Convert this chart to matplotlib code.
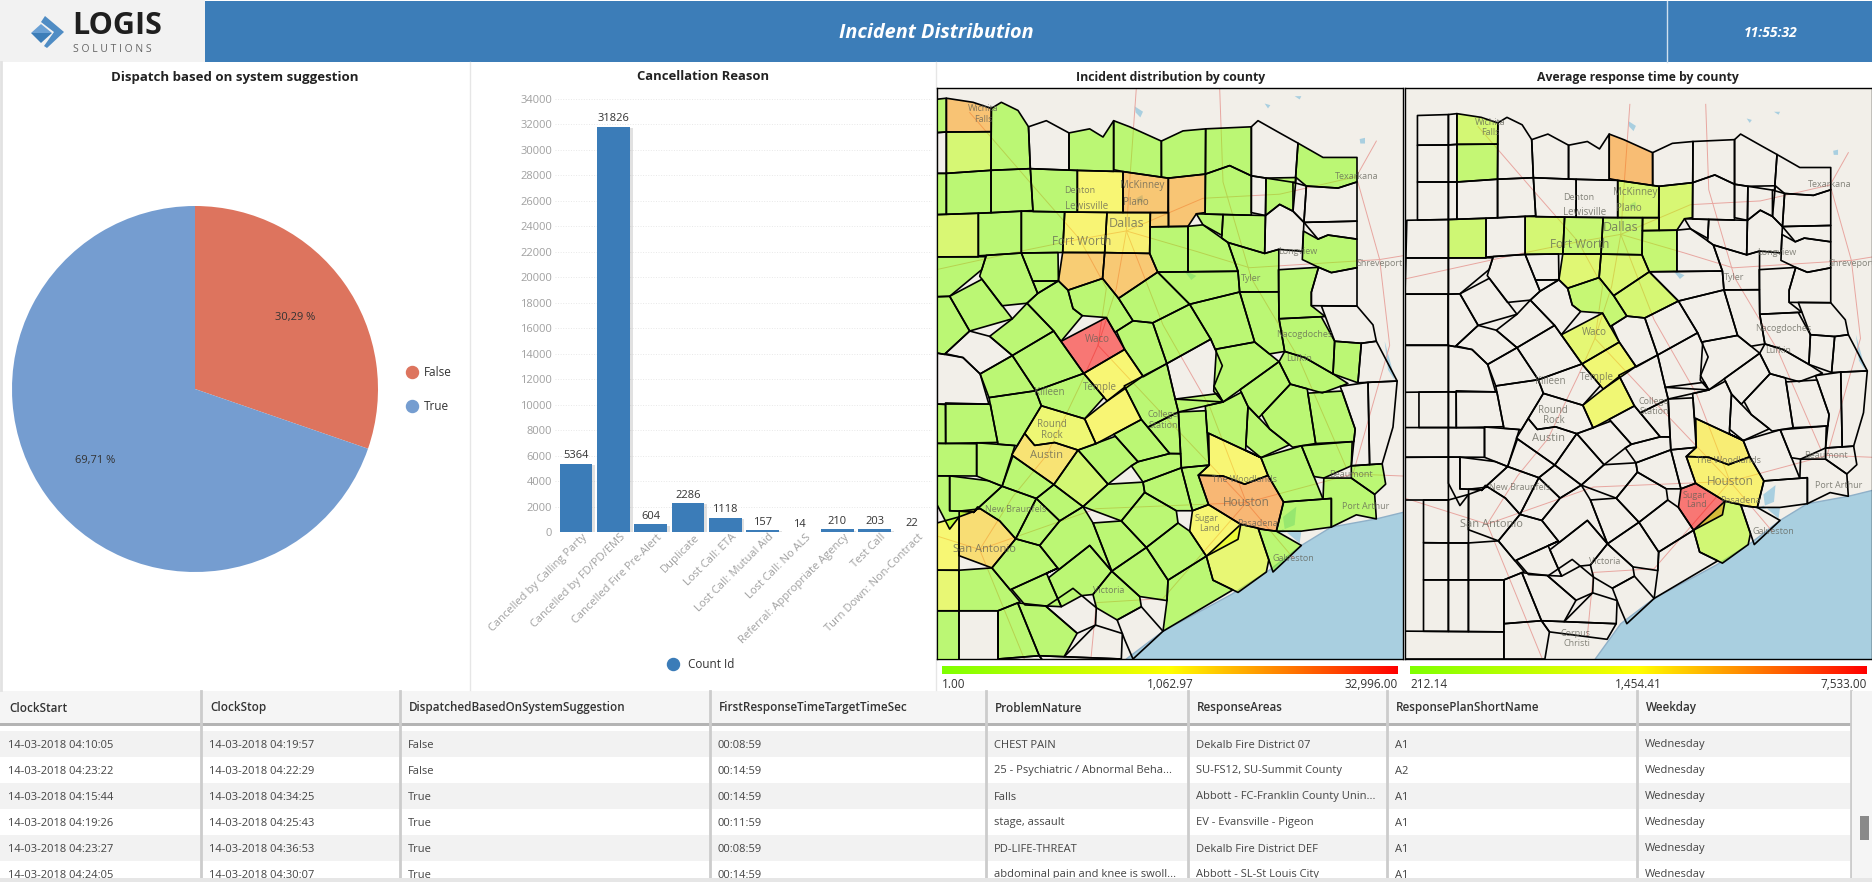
import matplotlib
matplotlib.use("Agg")
import matplotlib.pyplot as plt
import matplotlib.patheffects as pe
from matplotlib.colors import LinearSegmentedColormap, TwoSlopeNorm
from matplotlib.patches import Polygon, Rectangle
from matplotlib.transforms import ScaledTranslation
import numpy as np

W, H = 1872, 882
plt.rcParams['font.family'] = ['Open Sans', 'DejaVu Sans']

PIE_LABELS = ["False", "True"]
PIE_VALUES = [30.29, 69.71]
PIE_COLORS = ["#dd745e", "#759dd0"]

REASONS = ["Cancelled by Calling Party", "Cancelled by FD/PD/EMS", "Cancelled Fire Pre-Alert",
           "Duplicate", "Lost Call: ETA", "Lost Call: Mutual Aid", "Lost Call: No ALS",
           "Referral: Appropriate Agency", "Test Call", "Turn Down: Non-Contract"]
REASON_COUNTS = [5364, 31826, 604, 2286, 1118, 157, 14, 210, 203, 22]

TABLE_COLS = ["ClockStart", "ClockStop", "DispatchedBasedOnSystemSuggestion",
              "FirstResponseTimeTargetTimeSec", "ProblemNature", "ResponseAreas",
              "ResponsePlanShortName", "Weekday"]
TABLE_ROWS = [
    ["14-03-2018 04:10:05", "14-03-2018 04:19:57", "False", "00:08:59", "CHEST PAIN",
     "Dekalb Fire District 07", "A1", "Wednesday"],
    ["14-03-2018 04:23:22", "14-03-2018 04:22:29", "False", "00:14:59", "25 - Psychiatric / Abnormal Beha...",
     "SU-FS12, SU-Summit County", "A2", "Wednesday"],
    ["14-03-2018 04:15:44", "14-03-2018 04:34:25", "True", "00:14:59", "Falls",
     "Abbott - FC-Franklin County Unin...", "A1", "Wednesday"],
    ["14-03-2018 04:19:26", "14-03-2018 04:25:43", "True", "00:11:59", "stage, assault",
     "EV - Evansville - Pigeon", "A1", "Wednesday"],
    ["14-03-2018 04:23:27", "14-03-2018 04:36:53", "True", "00:08:59", "PD-LIFE-THREAT",
     "Dekalb Fire District DEF", "A1", "Wednesday"],
    ["14-03-2018 04:24:05", "14-03-2018 04:30:07", "True", "00:14:59", "abdominal pain and knee is swoll...",
     "Abbott - SL-St Louis City", "A1", "Wednesday"],
]

# county outlines
COUNTIES = {
    "Wichita": [(50,95),(130,105),(185,120),(183,177),(50,177)],
    "Archer": [(50,177),(183,177),(183,278),(50,278)],
    "Clay": [(185,120),(215,105),(265,125),(298,165),(295,263),(185,263)],
    "Montague": [(295,165),(350,150),(418,180),(418,270),(295,270)],
    "Cooke": [(418,180),(480,170),(520,190),(552,150),(552,270),(418,270)],
    "Grayson": [(552,150),(600,165),(695,200),(695,290),(580,275),(552,270)],
    "Fannin": [(695,200),(760,175),(828,170),(828,275),(715,290),(695,290)],
    "Lamar": [(828,170),(965,165),(965,285),(900,258),(828,285)],
    "RedRiver": [(965,165),(985,150),(1050,180),(1105,205),(1105,285),(965,285)],
    "Bowie": [(1105,205),(1180,240),(1282,240),(1282,300),(1225,315),(1130,310),(1105,300)],
    "Hopkins": [(828,285),(900,262),(965,285),(965,375),(828,375)],
    "Franklin": [(965,285),(1010,285),(1010,375),(965,375)],
    "Titus": [(1010,280),(1090,280),(1090,370),(1050,355),(1010,370)],
    "Morris": [(1090,300),(1130,310),(1130,395),(1090,375)],
    "Cass": [(1130,310),(1225,315),(1282,300),(1282,395),(1130,395)],
    "Upshur": [(1005,392),(1050,355),(1090,370),(1118,395),(1118,470),(1050,465),(1005,475)],
    "Marion": [(1118,400),(1282,397),(1282,440),(1195,430),(1165,440),(1118,410)],
    "Harrison": [(1118,420),(1165,440),(1195,430),(1282,440),(1282,510),(1205,522),(1160,500),(1118,490)],
    "Panola": [(1170,515),(1205,522),(1282,510),(1282,603),(1145,603),(1145,570)],
    "Rusk": [(1048,515),(1170,512),(1145,570),(1145,603),(1175,635),(1048,635)],
    "Smith": [(895,450),(1005,475),(1045,465),(1045,568),(930,568),(925,518)],
    "Wood": [(880,380),(1005,392),(1005,475),(895,445),(880,430)],
    "Rains": [(800,378),(880,380),(880,432),(820,405)],
    "VanZandt": [(775,408),(820,405),(895,450),(925,518),(775,518)],
    "Hunt": [(718,290),(825,278),(825,375),(800,378),(775,408),(718,408)],
    "Rockwall": [(662,375),(715,375),(715,410),(662,410)],
    "Kaufman": [(660,410),(775,410),(775,518),(682,518),(660,475)],
    "Collin": [(580,277),(715,292),(715,375),(580,375)],
    "Denton": [(443,272),(580,272),(580,375),(443,375)],
    "Wise": [(310,272),(443,272),(443,370),(310,370)],
    "Jack": [(185,265),(308,265),(310,370),(185,370)],
    "Young": [(50,280),(183,280),(183,378),(50,378)],
    "Baylor": [(22,180),(50,180),(50,278),(22,278)],
    "Throckmorton": [(22,280),(50,280),(50,378),(22,378)],
    "Wilbarger": [(22,95),(50,95),(50,177),(22,177)],
    "Stephens": [(22,382),(145,382),(145,482),(22,482)],
    "PaloPinto": [(147,372),(275,372),(275,480),(147,480)],
    "Parker": [(275,372),(405,372),(405,472),(275,472)],
    "Tarrant": [(405,375),(532,375),(532,472),(405,472)],
    "Dallas": [(532,375),(662,375),(660,475),(532,472)],
    "Johnson": [(387,474),(518,474),(518,537),(415,565),(387,545)],
    "Ellis": [(518,474),(660,475),(682,520),(565,585),(520,535)],
    "Hood": [(275,472),(385,472),(385,528),(305,545)],
    "Somervell": [(305,545),(385,528),(387,555),(325,572)],
    "Erath": [(170,482),(275,472),(322,575),(292,597),(215,605),(155,540)],
    "Eastland": [(22,485),(170,485),(170,520),(60,580),(22,580)],
    "Comanche": [(60,580),(155,540),(248,635),(120,665)],
    "Brown": [(22,582),(60,580),(120,665),(45,718),(22,718)],
    "Hamilton": [(180,678),(248,635),(292,597),(372,665),(248,725)],
    "Bosque": [(292,597),(325,572),(387,555),(415,565),(430,610),(458,630),(392,692),(372,665)],
    "Hill": [(415,565),(518,537),(565,585),(610,640),(560,665),(530,632),(458,625),(430,610)],
    "Navarro": [(570,585),(682,520),(780,600),(670,645),(610,640)],
    "Henderson": [(690,525),(925,520),(930,570),(780,598)],
    "McLennan": [(392,692),(530,632),(585,710),(458,770)],
    "Limestone": [(560,665),(610,640),(668,645),(710,742),(640,775),(585,710)],
    "Freestone": [(670,645),(780,600),(840,685),(712,742)],
    "Anderson": [(780,600),(930,570),(975,692),(860,708),(845,680)],
    "Cherokee": [(930,570),(1045,570),(1048,635),(1065,715),(1020,720),(975,692)],
    "Nacogdoches": [(1048,635),(1175,635),(1215,690),(1210,770),(1125,730),(1065,715)],
    "Shelby": [(1175,605),(1282,605),(1330,650),(1340,690),(1295,695),(1215,690)],
    "Sabine": [(1215,690),(1295,695),(1285,800),(1210,770)],
    "Newton": [(1295,695),(1340,690),(1395,785),(1285,790)],
    "Angelina": [(1065,715),(1125,730),(1210,770),(1255,800),(1178,820),(1082,795),(1048,740)],
    "Houston": [(860,708),(975,692),(1048,740),(880,840),(850,800)],
    "Trinity": [(935,815),(1048,740),(1082,795),(995,868),(955,850)],
    "Polk": [(995,868),(1082,795),(1130,818),(1158,940),(1085,935),(1020,905)],
    "Tyler": [(1130,818),(1230,815),(1278,905),(1270,935),(1158,940)],
    "Jasper": [(1230,795),(1315,790),(1320,995),(1265,995),(1275,905)],
    "Sabine2": [(1315,790),(1410,790),(1390,900),(1350,985),(1320,995)],
    "Leon": [(712,745),(845,690),(878,750),(850,800),(880,835),(735,830)],
    "Robertson": [(585,800),(712,750),(735,830),(745,860),(660,900),(635,880)],
    "Madison": [(740,835),(880,808),(880,840),(745,865)],
    "Walker": [(830,860),(880,840),(935,815),(955,850),(950,945),(990,975),(838,912)],
    "SanJacinto": [(955,850),(1020,905),(1085,935),(990,975),(955,945)],
    "Falls": [(475,765),(585,710),(640,775),(525,825)],
    "Bell": [(318,810),(458,770),(525,825),(465,880),(335,848)],
    "Coryell": [(248,725),(372,665),(458,770),(318,810)],
    "Lampasas": [(152,770),(248,725),(318,810),(178,822)],
    "SanSaba": [(45,718),(120,665),(180,678),(248,725),(152,770),(100,730)],
    "Burnet": [(178,822),(318,815),(335,848),(262,935),(205,935)],
    "Milam": [(465,880),(585,805),(635,880),(500,945)],
    "Williamson": [(335,848),(465,880),(500,945),(445,955),(375,938),(315,945),(280,912)],
    "Travis": [(250,970),(280,912),(315,945),(375,938),(445,955),(365,1042)],
    "Burleson": [(555,925),(635,885),(720,965),(625,985)],
    "Brazos": [(645,905),(745,860),(760,965),(720,965)],
    "Grimes": [(750,868),(828,860),(838,990),(755,1000)],
    "Lee": [(445,958),(555,925),(625,985),(605,995),(535,1040)],
    "Bastrop": [(380,1040),(445,958),(535,1040),(460,1095)],
    "Washington": [(605,995),(625,985),(720,965),(755,965),(755,1000),(640,1035)],
    "Fayette": [(460,1095),(535,1040),(640,1035),(645,1060),(575,1130)],
    "Austin": [(640,1035),(755,1000),(785,1105),(740,1105),(645,1060)],
    "Waller": [(755,1000),(840,995),(805,1018),(835,1090),(790,1105)],
    "Montgomery": [(838,915),(990,975),(1015,1018),(1000,1030),(945,1040),(880,1020),(808,1018),(838,995)],
    "Liberty": [(1005,975),(1115,945),(1180,1075),(1060,1078),(1015,1018)],
    "Hardin": [(1115,940),(1265,935),(1265,995),(1185,1025),(1145,1025)],
    "Orange": [(1265,995),(1365,995),(1368,1040),(1335,1065),(1265,1025)],
    "Jefferson": [(1180,1025),(1265,1025),(1335,1065),(1340,1125),(1280,1115),(1205,1145),(1205,1075),(1180,1075)],
    "Chambers": [(1060,1078),(1205,1075),(1205,1145),(1115,1155),(1040,1160),(1065,1100)],
    "Harris": [(805,1018),(880,1020),(945,1040),(1015,1020),(1040,1065),(1065,1095),(1040,1145),(1010,1160),(935,1135),(840,1090)],
    "FortBend": [(790,1105),(835,1090),(935,1140),(925,1175),(830,1210),(780,1155)],
    "Brazoria": [(930,1140),(985,1150),(1030,1220),(1010,1255),(925,1305),(850,1275),(830,1215)],
    "Galveston": [(985,1150),(1040,1160),(1115,1190),(1030,1255)],
    "Wharton": [(650,1195),(745,1135),(780,1155),(830,1215),(715,1275)],
    "Colorado": [(575,1130),(645,1060),(740,1105),(745,1135),(650,1195)],
    "Lavaca": [(490,1135),(575,1130),(650,1195),(545,1255)],
    "Matagorda": [(715,1275),(830,1225),(850,1275),(905,1310),(700,1400),(712,1320)],
    "Jackson": [(548,1255),(650,1195),(715,1275),(712,1330),(630,1315)],
    "Victoria": [(490,1310),(548,1255),(630,1315),(630,1340),(560,1380),(500,1345)],
    "Gonzales": [(390,1130),(460,1095),(490,1135),(545,1250),(480,1190),(385,1245),(330,1190)],
    "Caldwell": [(320,1075),(380,1040),(460,1095),(390,1130)],
    "Guadalupe": [(258,1170),(320,1075),(390,1130),(330,1190)],
    "Hays": [(218,1045),(250,970),(365,1042),(320,1075)],
    "Comal": [(130,1105),(218,1045),(320,1075),(258,1170),(210,1130),(150,1105)],
    "Blanco": [(142,942),(250,950),(218,1045),(142,1020)],
    "Gillespie": [(22,940),(140,940),(140,1018),(22,1018)],
    "Kendall": [(60,1020),(180,1020),(215,1045),(130,1105),(60,1105)],
    "Bexar": [(88,1120),(150,1105),(210,1130),(258,1170),(185,1245),(88,1215)],
    "Medina": [(22,1135),(88,1120),(88,1250),(22,1250)],
    "Frio": [(22,1252),(88,1252),(88,1350),(22,1350)],
    "Atascosa": [(88,1250),(185,1245),(260,1330),(205,1350),(88,1350)],
    "Wilson": [(190,1245),(258,1185),(330,1190),(385,1245),(245,1295)],
    "Karnes": [(245,1295),(385,1245),(355,1270),(395,1340),(285,1345)],
    "DeWitt": [(355,1270),(480,1190),(545,1250),(490,1310),(465,1300),(395,1340)],
    "Goliad": [(270,1345),(345,1340),(445,1405),(395,1460),(335,1455)],
    "LiveOak": [(205,1350),(265,1325),(330,1455),(205,1468)],
    "McMullen": [(88,1350),(205,1350),(205,1490),(88,1490)],
    "LaSalle": [(22,1350),(88,1350),(88,1490),(22,1490)],
    "Refugio": [(350,1345),(430,1295),(500,1340),(495,1385),(440,1405)],
    "Calhoun": [(565,1365),(640,1340),(700,1400),(610,1468),(580,1420)],
    "SanPatricio": [(410,1460),(500,1385),(590,1400),(575,1468),(405,1468)],
    "Nueces": [(325,1465),(575,1468),(545,1510),(355,1490)],
    "Llano": [(48,845),(178,845),(205,940),(48,940)],
    "Kimble": [(22,845),(48,845),(48,940),(22,940)],
    "Mason": [(22,720),(100,730),(150,770),(178,840),(22,840)],
    "Kerr": [(22,1020),(60,1020),(60,1105),(130,1105),(88,1120),(60,1150),(22,1090)],
    # only seen on the right map, which reaches further out
    "Foard": [(-80,100),(22,100),(22,180),(-80,180)],
    "Knox": [(-80,180),(22,180),(22,279),(-80,279)],
    "Haskell": [(-80,279),(22,279),(22,378),(-80,378)],
    "Shackelford": [(-115,382),(22,382),(22,482),(-115,482)],
    "Callahan": [(-121,485),(22,485),(22,580),(-121,580)],
    "Coleman": [(-121,582),(22,582),(22,718),(-121,718)],
    "McCulloch": [(-121,720),(22,720),(22,845),(-121,845)],
    "Menard": [(-75,845),(22,845),(22,940),(-75,940)],
    "Edwards": [(-121,940),(22,940),(22,1020),(-121,1020)],
    "Real": [(-121,1020),(22,1020),(22,1135),(-121,1135)],
    "Uvalde": [(-60,1135),(22,1135),(22,1250),(-60,1250)],
    "Zavala": [(-60,1250),(22,1250),(22,1350),(-60,1350)],
    "Dimmit": [(-60,1350),(22,1350),(22,1488),(-60,1488)],
    "Duval": [(205,1350),(205,1468),(325,1465),(355,1490),(340,1563),(205,1563)],
    "Webb": [(-121,1488),(205,1490),(205,1563),(-121,1563)],
}

# colored counties on the left map, all others are uncoloured
INCIDENTS = {c: 60 for c in COUNTIES}
for c in ["Montague", "RedRiver", "Franklin", "Morris", "Cass", "Upshur", "Marion", "Panola", "Shelby",
          "Newton", "Jasper", "Sabine2", "Leon", "SanSaba", "Mason", "McMullen", "Refugio", "Calhoun",
          "SanPatricio", "Nueces", "Baylor", "Foard", "Knox", "Haskell", "Shackelford", "Callahan", "Coleman",
          "McCulloch", "Menard", "Edwards", "Real", "Uvalde", "Zavala", "Dimmit", "Duval", "Webb"]:
    del INCIDENTS[c]
INCIDENTS.update({"McLennan": 32996, "Harris": 17000, "Wichita": 14000, "Collin": 13000, "Hunt": 13500,
                  "Rockwall": 11000, "Johnson": 11500, "Ellis": 12500, "Bexar": 7500, "Travis": 6000,
                  "Denton": 1300, "Tarrant": 1700, "Dallas": 2600, "Falls": 1100, "Milam": 1500,
                  "Williamson": 900, "Montgomery": 1200, "FortBend": 1300, "Brazoria": 800, "Medina": 1050,
                  "Frio": 800, "Archer": 500, "Stephens": 550, "Bastrop": 450})

RESPONSE = {"Wichita": 750, "Archer": 450, "Stephens": 650, "Collin": 780, "Hunt": 850, "Rockwall": 800,
            "Dallas": 500, "Tarrant": 540, "Parker": 760, "Kaufman": 500, "Johnson": 1000, "Ellis": 900,
            "Navarro": 800, "Hill": 500, "McLennan": 1100, "Falls": 1300, "Milam": 1300, "Montgomery": 1900,
            "Harris": 1700, "FortBend": 7533, "Brazoria": 700, "Grayson": 4200}

COAST = [(506,1563),(590,1468),(700,1400),(905,1310),(1020,1250),(1115,1190),(1205,1145),(1340,1125),
         (1425,1108),(1425,1570),(506,1570)]
BAY = [(1040,1160),(1115,1155),(1110,1185),(1060,1150)]
LAKES = [[(620,340),(638,332),(642,348),(624,352)], [(615,115),(640,128),(632,142),(618,130)],
         [(1290,195),(1306,192),(1306,206),(1292,206)], [(1095,90),(1115,90),(1110,98)],
         [(1365,690),(1385,750),(1395,785),(1375,760)], [(1060,1120),(1100,1095),(1095,1140),(1065,1150)],
         [(1005,108),(1022,112),(1015,120)], [(760,515),(800,530),(785,540)]]
ROADS = [
    [(150,1200),(250,1070),(350,970),(450,800),(505,700),(560,560),(590,420),(600,300),(620,70)],
    [(590,420),(700,650),(840,850),(950,1085),(1090,1220)],
    [(-121,1130),(150,1200),(500,1100),(950,1085),(1270,1015),(1420,1020)],
    [(-121,540),(270,470),(450,440),(590,420),(800,470),(960,510),(1350,490),(1425,480)],
    [(590,420),(820,340),(1050,330),(1280,287),(1340,200)],
    [(120,130),(300,300),(450,440)],
    [(150,1200),(330,1560)],
    [(950,1085),(700,1320),(500,1330),(480,1500)],
    [(1280,287),(1350,490),(1380,700),(1270,1015)],
    [(870,70),(880,300),(965,536),(1108,733),(1250,1000)],
    [(450,440),(530,560),(505,700),(700,870),(950,1085)],
]
CITIES = [("Wichita", 160, 120, 6.5), ("Falls", 160, 146, 6.5), ("Denton", 450, 321, 6.5), ("McKinney", 638, 308, 7),
          ("Lewisville", 470, 360, 7), ("Plano", 618, 351, 7), ("Dallas", 590, 402, 9),
          ("Fort Worth", 455, 447, 8.5), ("Texarkana", 1280, 287, 6.5), ("Tyler", 965, 536, 6.5),
          ("Longview", 1105, 470, 6.5), ("Shreveport", 1350, 499, 6.5), ("Waco", 503, 685, 7),
          ("Temple", 510, 804, 7), ("Killeen", 358, 815, 7), ("Nacogdoches", 1125, 673, 6.5),
          ("Lufkin", 1108, 733, 6.5), ("College", 700, 870, 6.5), ("Station", 700, 896, 6.5),
          ("Round", 368, 895, 7), ("Rock", 368, 920, 7), ("Austin", 352, 970, 8),
          ("New Braunfels", 258, 1101, 6.5), ("San Antonio", 165, 1200, 8), ("Houston", 950, 1085, 8.5),
          ("The Woodlands", 945, 1028, 6.5), ("Pasadena", 985, 1136, 6.5), ("Sugar", 832, 1124, 6.5),
          ("Land", 838, 1148, 6.5), ("Beaumont", 1265, 1016, 6.5), ("Port Arthur", 1308, 1095, 6.5),
          ("Galveston", 1092, 1221, 6.5), ("Victoria", 538, 1300, 6.5), ("Corpus", 440, 1495, 6.5), ("Christi", 445, 1520, 6.5)]

SCALE1 = [1.00, 1062.97, 32996.00]
SCALE2 = [212.14, 1454.41, 7533.00]
heat = LinearSegmentedColormap.from_list("heat", ["#7fff00", "#ffff00", "#ff0000"])


def close_gaps(counties, corner_r=20, edge_r=18):
    # my hand read outlines don't quite meet, so pull neighbours together
    names, sizes, flat = [], [], []
    for n, p in counties.items():
        names.append(n)
        sizes.append(len(p))
        flat.extend(p)
    pts = np.array(flat, dtype=float)
    owner = np.repeat(np.arange(len(names)), sizes)
    done = np.zeros(len(pts), dtype=bool)
    for i in range(len(pts)):
        if done[i]:
            continue
        near = (~done) & (np.hypot(*(pts - pts[i]).T) < corner_r) & ((owner != owner[i]) | (np.arange(len(pts)) == i))
        pts[near] = pts[near].mean(axis=0)
        done |= near
    # corners that sit on a neighbour's side
    starts = np.cumsum([0] + sizes)
    a_idx = np.arange(len(pts))
    b_idx = np.concatenate([np.roll(np.arange(s, s + k), -1) for s, k in zip(starts, sizes)])
    for i in range(len(pts)):
        a, b = pts[a_idx], pts[b_idx]
        d = b - a
        t = np.clip(((pts[i] - a) * d).sum(axis=1) / np.maximum((d * d).sum(axis=1), 1e-9), 0, 1)
        foot = a + t[:, None] * d
        dist = np.hypot(*(pts[i] - foot).T)
        dist[owner == owner[i]] = np.inf
        dist[(t <= 0.02) | (t >= 0.98)] = np.inf
        j = dist.argmin()
        if dist[j] < edge_r:
            pts[i] = foot[j]
    return {n: pts[s:s + k] for n, s, k in zip(names, starts, sizes)}


def px_axes(x0, y0, x1, y1, **kw):
    return fig.add_axes([x0 / W, 1 - y1 / H, (x1 - x0) / W, (y1 - y0) / H], **kw)


def draw_map(x0, y0, x1, y1, view, values, scale):
    ax = px_axes(x0, y0, x1, y1, facecolor="#f2efe9")
    norm = TwoSlopeNorm(vmin=scale[0], vcenter=scale[1], vmax=scale[2])
    ax.add_patch(Polygon(COAST, fc="#a9cfe0", ec="#8fb0c8", lw=1, zorder=1))
    ax.add_patch(Polygon(BAY, fc="#a9cfe0", ec="none", zorder=1))
    for lake in LAKES:
        ax.add_patch(Polygon(lake, fc="#a9cfe0", ec="none", zorder=1))
    for road in ROADS:
        ax.plot(*zip(*road), color="#e8a6a0", lw=0.7, zorder=2)
    for name, pts in OUTLINES.items():
        v = values.get(name)
        if v is not None:
            ax.add_patch(Polygon(pts, fc=heat(norm(v)), alpha=0.5, ec="none", zorder=3))
        ax.add_patch(Polygon(pts, fc="none", ec="black", lw=1.2, joinstyle="round", zorder=4))
    for label, cx, cy, size in CITIES:
        ax.text(cx, cy, label, fontsize=size, color="#5f5f55", alpha=0.75, ha="center", va="center",
                clip_on=True, zorder=5)
    ax.set_xlim(view[0], view[1])
    ax.set_ylim(view[2], view[3])
    ax.set_xticks([])
    ax.set_yticks([])
    for s in ax.spines.values():
        s.set_linewidth(1)
    # colour scale under the map
    cb = px_axes(x0 + 5, 666, x1 - 5, 674)
    cb.imshow(np.linspace(0, 1, 256)[None, :], cmap=heat, aspect="auto")
    cb.axis("off")
    base.text(x0 + 5, 684, f"{scale[0]:,.2f}", fontsize=8.5, color="#333333", va="center")
    base.text((x0 + x1) / 2, 684, f"{scale[1]:,.2f}", fontsize=8.5, color="#333333", va="center", ha="center")
    base.text(x1 - 5, 684, f"{scale[2]:,.2f}", fontsize=8.5, color="#333333", va="center", ha="right")


OUTLINES = close_gaps(COUNTIES)

fig = plt.figure(figsize=(W / 100, H / 100), dpi=100, facecolor="white")
base = fig.add_axes([0, 0, 1, 1])
base.set_xlim(0, W)
base.set_ylim(H, 0)
base.axis("off")

# header
base.add_patch(Rectangle((0, 0), 205, 62, fc="#f2f2f2", ec="none"))
base.add_patch(Rectangle((205, 1), W - 205, 61, fc="#3c7db8", ec="none"))
base.plot([1667, 1667], [1, 62], color="#cfe0ef", lw=1)
base.text(936, 33, "Incident Distribution", color="white", fontsize=14.3, fontweight="bold", fontstyle="italic",
          ha="center", va="center")
base.text(1771, 33, "11:55:32", color="white", fontsize=10, fontweight="bold", fontstyle="italic",
          ha="center", va="center")
base.add_patch(Polygon([(31, 33), (41, 24), (52, 33)], fc="#6aa0d4", ec="none"))
base.add_patch(Polygon([(31, 33), (41, 43), (52, 33)], fc="#3c7db8", ec="none"))
base.add_patch(Polygon([(45, 16), (64, 32), (47, 48), (44, 46), (54, 32), (41, 22)], fc="#4f8cc4", ec="none"))
base.text(72, 26, "LOGIS", fontsize=22, fontweight="bold", color="#1f1f1f", va="center")
base.text(73, 49, "S O L U T I O N S", fontsize=7.5, color="#666666", va="center")

# panel separators
base.plot([1, 1], [62, 690], color="#e2e2e2", lw=2)
base.plot([470, 470], [62, 690], color="#e6e6e6", lw=1)
base.plot([936, 936], [62, 690], color="#e6e6e6", lw=1)

for title, cx, size in [("Dispatch based on system suggestion", 235, 9.5), ("Cancellation Reason", 703, 9.4),
                        ("Incident distribution by county", 1171, 8.8), ("Average response time by county", 1638, 8.85)]:
    base.text(cx, 77, title, fontsize=size, fontweight="bold", color="#222222", ha="center", va="center")

# pie
ax_pie = px_axes(12, 206, 378, 572)
ax_pie.pie(PIE_VALUES, colors=PIE_COLORS, startangle=90, counterclock=False, radius=1,
           autopct=lambda p: f"{p:.2f} %".replace(".", ","), pctdistance=0.67,
           textprops={"fontsize": 8, "color": "#333333"})
ax_pie.set_xlim(-1, 1)
ax_pie.set_ylim(-1, 1)
for label, color, y in zip(PIE_LABELS, PIE_COLORS, [372, 406]):
    base.scatter([412], [y], s=75, color=color)
    base.text(424, y, label, fontsize=8.5, color="#333333", va="center")

# bars
ax_bar = px_axes(555, 99, 932, 532)
xs = np.arange(len(REASONS))
ax_bar.bar(xs, REASON_COUNTS, width=0.88, color="#3b7cb8", zorder=3,
           path_effects=[pe.withSimplePatchShadow(offset=(2, -1), shadow_rgbFace="#888888", alpha=0.25)])
for x, v in zip(xs, REASON_COUNTS):
    ax_bar.text(x, v + 180, str(v), fontsize=8, color="#333333", ha="center", va="bottom", zorder=4)
ax_bar.set_xlim(-0.563, 9.54)
ax_bar.set_ylim(0, 34000)
ax_bar.set_yticks(np.arange(0, 34001, 2000))
ax_bar.set_xticks(xs)
ax_bar.set_xticklabels(REASONS, rotation=45, ha="right", rotation_mode="anchor")
ax_bar.tick_params(length=0, labelsize=8, labelcolor="#a0a0a0", pad=2)
for lab in ax_bar.get_xticklabels():
    lab.set_transform(lab.get_transform() + ScaledTranslation(6 / 100, 3 / 100, fig.dpi_scale_trans))
ax_bar.grid(axis="y", color="#e8e8e8", lw=0.7, ls=":")
ax_bar.set_axisbelow(True)
for s in ax_bar.spines.values():
    s.set_visible(False)
base.scatter([673], [664], s=75, color="#3b7cb8")
base.text(688, 664, "Count Id", fontsize=8.5, color="#333333", va="center")

# maps share one outline set, the right one just looks from further away
draw_map(937, 88, 1403, 659, (22, 1420, 1468, 70), INCIDENTS, SCALE1)
draw_map(1405, 88, 1872, 659, (-121, 1418, 1563, 26), RESPONSE, SCALE2)

# table
col_x = [0, 201, 400, 710, 986, 1188, 1387, 1637, 1851]
row_top = 731
row_h = 26
base.add_patch(Rectangle((0, 691), W, 32, fc="#f5f5f5", ec="none"))
base.add_patch(Rectangle((0, 723), W, 3, fc="#b4b4b4", ec="none"))
for i, row in enumerate(TABLE_ROWS):
    y = row_top + i * row_h
    if i % 2 == 0:
        base.add_patch(Rectangle((0, y), 1851, row_h, fc="#f2f2f2", ec="none"))
    for j, cell in enumerate(row):
        base.text(col_x[j] + 8, y + row_h / 2 + 1, cell, fontsize=8, color="#444444", va="center", clip_on=True)
for j, name in enumerate(TABLE_COLS):
    base.text(col_x[j] + 9, 708, name, fontsize=8.4, fontweight="semibold", color="#333333", va="center")
for x in col_x[1:]:
    base.plot([x, x], [691, 878], color="#cccccc", lw=2, zorder=3)
base.add_patch(Rectangle((1852, 691), 20, 187, fc="#f5f5f5", ec="none", zorder=3))
base.add_patch(Rectangle((1860, 816), 9, 24, fc="#8a8a8a", ec="none", zorder=4))
base.add_patch(Rectangle((0, 878), W, 4, fc="#e6e6e6", ec="none", zorder=5))

fig.savefig("out.png", dpi=100)
